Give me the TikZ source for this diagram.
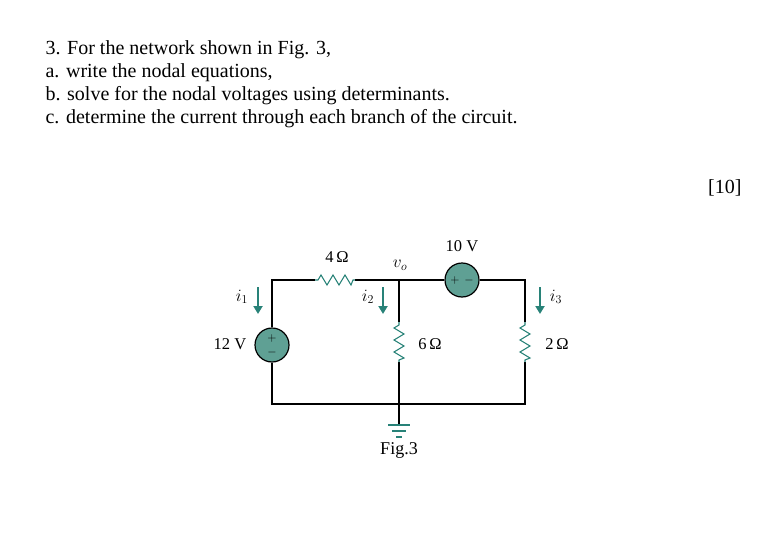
\documentclass[tikz,border=0pt]{standalone}
\usepackage{fontspec}
\setmainfont{Liberation Serif}
\usetikzlibrary{arrows.meta,positioning,calc}
\definecolor{tealc}{RGB}{40,130,120}
\definecolor{srcfill}{RGB}{95,160,148}
\tikzset{
  wire/.style={line width=1.4pt, black},
  res/.style={line width=1.1pt, tealc},
  src/.style={circle, draw=black, line width=1.2pt, fill=srcfill, minimum size=34pt, inner sep=0pt},
  sgn/.style={inner sep=0pt, font=\fontsize{12}{12}\selectfont},
  cur/.style={tealc, line width=2pt, -{Triangle[length=8pt,width=9pt]}},
  lbl/.style={font=\fontsize{16.5}{19}\selectfont},
  txt/.style={anchor=west, font=\fontsize{20}{22}\selectfont}
}
\begin{document}
\begin{tikzpicture}[x=1pt,y=-1pt]
    \useasboundingbox (0,0) rectangle (784,535);
    % question text
    \node[txt] (q0) at (42,50) {3. For the network shown in Fig. 3,};
    \node[txt] (q1) at (42,73) {a. write the nodal equations,};
    \node[txt] (q2) at (42,96) {b. solve for the nodal voltages using determinants.};
    \node[txt] (q3) at (42,119) {c. determine the current through each branch of the circuit.};
    \node[txt, anchor=east] (mark) at (745,188) {[10]};
    % corners of the circuit
    \coordinate (tl) at (272,280);
    \coordinate (tm) at (399,280);
    \coordinate (tr) at (525,280);
    \coordinate (bl) at (272,404);
    \coordinate (bm) at (399,404);
    \coordinate (br) at (525,404);
    \coordinate (gnd) at (399,425);
    % sources
    \node[src] (v12) at (272,345) {};
    \node[src] (v10) at (462,280) {};
    \node[sgn] (p12) at ($(v12)+(0,-7)$) {$+$};
    \node[sgn] (m12) at ($(v12)+(0,7)$) {$-$};
    \node[sgn] (p10) at ($(v10)+(-7,0)$) {$+$};
    \node[sgn] (m10) at ($(v10)+(7,0)$) {$-$};
    % wires
    \draw[wire] (v12) -- (tl) -- (315,280);
    \draw[wire] (355,280) -- (tm) -- (v10) -- (tr) -- (525,322);
    \draw[wire] (tm) -- (399,322);
    \draw[wire] (399,362) -- (bm);
    \draw[wire] (525,362) -- (br) -- (bm) -- (bl) -- (v12);
    \draw[wire] (bm) -- (gnd);
    % resistors
    \draw[res] (315,280) -- (318,280) -- (321,275) -- (327,285) -- (333,275) -- (339,285) -- (345,275) -- (351,285) -- (353,280) -- (355,280);
    \foreach \x in {399,525} {
      \draw[res] (\x,322) -- (\x,325) -- (\x-5,328) -- (\x+5,334) -- (\x-5,340) -- (\x+5,346) -- (\x-5,352) -- (\x+5,358) -- (\x,360) -- (\x,362);
    }
    % ground
    \draw[tealc, line width=1.8pt] (388,425) -- (410,425);
    \draw[tealc, line width=1.8pt] (392,431) -- (406,431);
    \draw[tealc, line width=1.8pt] (396,437) -- (402,437);
    % currents
    \draw[cur] (258,287) -- (258,314);
    \draw[cur] (383,287) -- (383,314);
    \draw[cur] (540,287) -- (540,314);
    \node[lbl] (li1) at (242,297) {$i_1$};
    \node[lbl] (li2) at (368,297) {$i_2$};
    \node[lbl] (li3) at (556,297) {$i_3$};
    % labels
    \node[lbl] (l4) at (337,257) {4\,Ω};
    \node[lbl] (lvo) at (400,265) {$v_o$};
    \node[lbl] (l10) at (462,246) {10 V};
    \node[lbl] (l6) at (430,344) {6\,Ω};
    \node[lbl] (l2) at (557,344) {2\,Ω};
    \node[lbl] (l12) at (230,344) {12 V};
    \node[lbl, font=\fontsize{18}{20}\selectfont] (fig) at (399,450) {Fig.3};
\end{tikzpicture}
\end{document}
